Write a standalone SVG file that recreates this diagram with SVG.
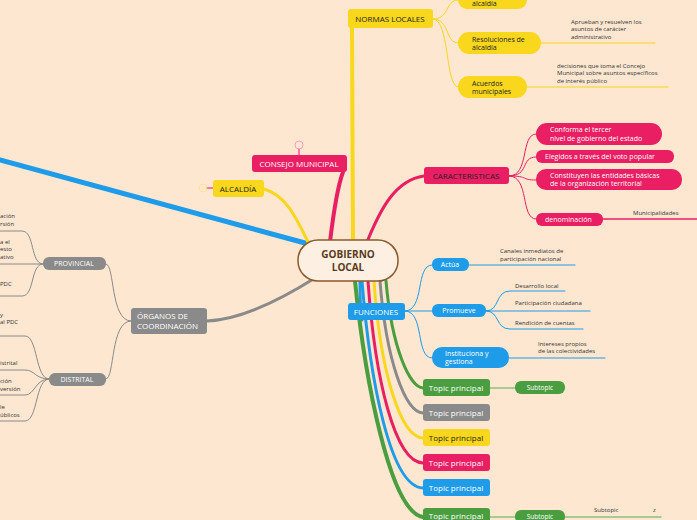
<svg xmlns="http://www.w3.org/2000/svg" width="697" height="520" viewBox="0 0 697 520">
<style>
text{font-family:"Open Sans","Liberation Sans",sans-serif}
.s{font-size:6px;fill:#333}
.n{font-size:8px}
.w{fill:#fff}
.k{fill:#222}
</style>
<rect width="697" height="520" fill="#fde7d0"/>
<g id="connectors" fill="none" stroke-linecap="round">
<path d="M0,160 L305,243" stroke="#1e9be9" stroke-width="5"/>
<path d="M315,278 C280,300 240,320 207,321" stroke="#8a8a8a" stroke-width="3"/>
<path d="M308,242 C295,215 285,195 264,189" stroke="#f9d71c" stroke-width="3"/>
<path d="M330,242 C335,200 340,180 343,172" stroke="#e91e63" stroke-width="4"/>
<path d="M353,242 L352,28" stroke="#f9d71c" stroke-width="4"/>
<path d="M367,242 C380,210 395,180 424,176" stroke="#e91e63" stroke-width="3"/>
<path d="M360,281 C360,300 360,310 362,320" stroke="#1e9be9" stroke-width="3"/>
<path d="M355,281 C365,380 390,512 423,517" stroke="#4a9e3f" stroke-width="4"/>
<path d="M362,281 C370,380 390,487 423,488" stroke="#1e9be9" stroke-width="3"/>
<path d="M368,281 C375,380 395,462 423,463" stroke="#e91e63" stroke-width="3"/>
<path d="M374,281 C380,370 400,437 423,438" stroke="#f9d71c" stroke-width="3"/>
<path d="M380,281 C386,360 405,412 423,413" stroke="#8a8a8a" stroke-width="3"/>
<path d="M386,281 C392,350 410,387 423,388" stroke="#4a9e3f" stroke-width="3"/>
<path d="M433,19 C450,19 445,0 458,0 M433,19 C450,19 445,43 458,43 M433,19 C450,19 445,87 458,87" stroke="#f9d71c" stroke-width="1"/>
<path d="M541,43 L655,43 M527,87 L668,87" stroke="#f9d71c" stroke-width="1"/>
<path d="M509,176 C530,176 520,134 536,134 M509,176 C530,176 520,157 536,157 M509,176 C530,176 520,180 536,180 M509,176 C530,176 520,219 536,219" stroke="#e91e63" stroke-width="1"/>
<path d="M603,219 L697,219" stroke="#e91e63" stroke-width="1.5"/>
<path d="M405,311 C425,311 415,265 432,265 M405,311 L432,311 M405,311 C425,311 415,358 432,358" stroke="#1e9be9" stroke-width="1"/>
<path d="M469,265 L575,265 M509,358 L605,358 M486,311 C500,311 495,291 510,291 L565,291 M486,311 L590,311 M486,311 C500,311 495,329 510,329 L583,329" stroke="#1e9be9" stroke-width="1"/>
<path d="M490,388 L515,388 M490,517 L515,517 M565,517 L661,517" stroke="#8bc27f" stroke-width="1.5"/>
<path d="M131,321 C110,321 115,264 106,264 M131,321 C110,321 115,379 106,379" stroke="#8a8a8a" stroke-width="1"/>
<path d="M43,264 C30,264 35,231 22,231 L0,231 M43,264 L0,264 M43,264 C30,264 35,296 22,296 L0,296" stroke="#8a8a8a" stroke-width="1"/>
<path d="M49,379 C35,379 38,336 25,336 L0,336 M49,379 C35,379 35,370 25,370 L0,370 M49,379 C35,379 35,395 25,395 L0,395 M49,379 C35,379 38,421 25,421 L0,421" stroke="#8a8a8a" stroke-width="1"/>
<path d="M299,149 L299,155 M207,188 L213,188" stroke="#f08" stroke-width="1"/>
</g>
<g id="center"><rect x="298" y="240" width="100" height="41" rx="20" fill="#fdf0e2" stroke="#8b5a2b" stroke-width="1.5"/><text x="348" y="258" text-anchor="middle" font-size="10" font-weight="bold" fill="#5a3a1a">GOBIERNO</text><text x="348" y="271" text-anchor="middle" font-size="10" font-weight="bold" fill="#5a3a1a">LOCAL</text></g>
<g id="normas"><rect x="348" y="9" width="85" height="19" rx="3" fill="#f9d71c"/><text class="n k" x="390" y="22" text-anchor="middle">NORMAS LOCALES</text></g>
<g id="alcaldia-n"><rect x="458" y="-10" width="69" height="19" rx="9" fill="#f9d71c"/><text class="k" x="472" y="6" font-size="7">alcaldía</text></g>
<g id="resoluciones"><rect x="458" y="32" width="83" height="22" rx="11" fill="#f9d71c"/><text class="k" font-size="7" x="472" y="42">Resoluciones de</text><text class="k" font-size="7" x="472" y="50">alcaldía</text><text class="s" x="571" y="24">Aprueban y resuelven los</text><text class="s" x="571" y="31">asuntos de carácter</text><text class="s" x="571" y="39">administrativo</text></g>
<g id="acuerdos"><rect x="458" y="76" width="69" height="22" rx="11" fill="#f9d71c"/><text class="k" font-size="7" x="472" y="86">Acuerdos</text><text class="k" font-size="7" x="472" y="94">municipales</text><text class="s" x="557" y="68">decisiones que toma el Concejo</text><text class="s" x="557" y="75">Municipal sobre asuntos específicos</text><text class="s" x="557" y="83"> de interés público</text></g>
<g id="consejo"><rect x="252" y="155" width="95" height="17" rx="3" fill="#e91e63"/><text class="n w" x="299" y="167" text-anchor="middle">CONSEJO MUNICIPAL</text><circle cx="299" cy="145" r="4" fill="none" stroke="#f48fb1" stroke-width="0.8"/></g>
<g id="alcaldia"><rect x="213" y="180" width="51" height="17" rx="3" fill="#f9d71c"/><text class="n k" x="238" y="192" text-anchor="middle">ALCALDÍA</text><circle cx="203" cy="188" r="4" fill="none" stroke="#fbe57a" stroke-width="0.8"/></g>
<g id="caracteristicas"><rect x="424" y="167" width="85" height="17" rx="3" fill="#e91e63"/><text class="n k" x="466" y="179" text-anchor="middle">CARACTERISTICAS</text></g>
<g id="conforma"><rect x="536" y="123" width="126" height="22" rx="11" fill="#e91e63"/><text class="w" font-size="7" x="550" y="132">Conforma el tercer</text><text class="w" font-size="7" x="550" y="141">nivel de gobierno del estado</text></g>
<g id="elegidos"><rect x="536" y="150" width="138" height="13" rx="6" fill="#e91e63"/><text class="w" font-size="7" x="545" y="159">Elegidos a través del voto popular</text></g>
<g id="constituyen"><rect x="536" y="169" width="146" height="21" rx="10" fill="#e91e63"/><text class="w" font-size="7" x="550" y="178">Constituyen las entidades básicas</text><text class="w" font-size="7" x="550" y="186">de la organización territorial</text></g>
<g id="denominacion"><rect x="536" y="213" width="67" height="13" rx="6" fill="#e91e63"/><text class="w" font-size="7" x="545" y="222">denominación</text><text class="s" x="633" y="215">Municipalidades</text></g>
<g id="funciones"><rect x="348" y="303" width="57" height="17" rx="3" fill="#1e9be9"/><text class="n w" x="376" y="315" text-anchor="middle">FUNCIONES</text></g>
<g id="actua"><rect x="432" y="258" width="37" height="13" rx="6" fill="#1e9be9"/><text class="w" font-size="7" x="450" y="267" text-anchor="middle">Actúa</text><text class="s" x="500" y="253">Canales inmediatos de</text><text class="s" x="500" y="261">participación nacional</text></g>
<g id="promueve"><rect x="432" y="304" width="54" height="13" rx="6" fill="#1e9be9"/><text class="w" font-size="7" x="459" y="313" text-anchor="middle">Promueve</text><text class="s" x="515" y="288">Desarrollo local</text><text class="s" x="515" y="305">Participación ciudadana</text><text class="s" x="515" y="325">Rendición de cuentas</text></g>
<g id="institutiona"><rect x="432" y="347" width="77" height="21" rx="10" fill="#1e9be9"/><text class="w" font-size="7" x="445" y="356">Instituciona y</text><text class="w" font-size="7" x="445" y="364">gestiona</text><text class="s" x="538" y="346">Intereses propios</text><text class="s" x="538" y="353">de las colectividades</text></g>
<g id="tp1"><rect x="423" y="379" width="67" height="17" rx="3" fill="#4a9e3f"/><text class="n w" x="456" y="391" text-anchor="middle">Topic principal</text><rect x="515" y="381" width="50" height="13" rx="6" fill="#4a9e3f"/><text class="w" font-size="6.5" x="540" y="390" text-anchor="middle">Subtopic</text></g>
<g id="tp2"><rect x="423" y="404" width="67" height="17" rx="3" fill="#8a8a8a"/><text class="n w" x="456" y="416" text-anchor="middle">Topic principal</text></g>
<g id="tp3"><rect x="423" y="429" width="67" height="17" rx="3" fill="#f9d71c"/><text class="n k" x="456" y="441" text-anchor="middle">Topic principal</text></g>
<g id="tp4"><rect x="423" y="454" width="67" height="17" rx="3" fill="#e91e63"/><text class="n w" x="456" y="466" text-anchor="middle">Topic principal</text></g>
<g id="tp5"><rect x="423" y="479" width="67" height="17" rx="3" fill="#1e9be9"/><text class="n w" x="456" y="491" text-anchor="middle">Topic principal</text></g>
<g id="tp6"><rect x="423" y="508" width="67" height="17" rx="3" fill="#4a9e3f"/><text class="n w" x="456" y="519" text-anchor="middle">Topic principal</text><rect x="515" y="510" width="50" height="13" rx="6" fill="#4a9e3f"/><text class="w" font-size="6.5" x="540" y="519" text-anchor="middle">Subtopic</text><text class="s" x="594" y="512">Subtopic</text><text class="s" x="653" y="512">z</text></g>
<g id="organos"><rect x="131" y="308" width="76" height="26" rx="3" fill="#8a8a8a"/><text class="n w" x="137" y="319">ÓRGANOS DE</text><text class="n w" x="137" y="329">COORDINACIÓN</text></g>
<g id="provincial"><rect x="43" y="257" width="63" height="13" rx="6" fill="#8a8a8a"/><text class="w" font-size="7" x="74" y="266" text-anchor="middle">PROVINCIAL</text><text class="s" x="0" y="218">ación</text><text class="s" x="0" y="226">rsión</text><text class="s" x="0" y="244">a el</text><text class="s" x="0" y="251">esto</text><text class="s" x="0" y="259">ativo</text><text class="s" x="0" y="286">PDC</text><text class="s" x="0" y="317">y</text><text class="s" x="0" y="324">al PDC</text></g>
<g id="distrital"><rect x="49" y="373" width="57" height="13" rx="6" fill="#8a8a8a"/><text class="w" font-size="7" x="77" y="382" text-anchor="middle">DISTRITAL</text><text class="s" x="0" y="365">istrital</text><text class="s" x="0" y="383">ción</text><text class="s" x="0" y="391">versión</text><text class="s" x="0" y="409">le</text><text class="s" x="0" y="417">úblicos</text></g>
</svg>
